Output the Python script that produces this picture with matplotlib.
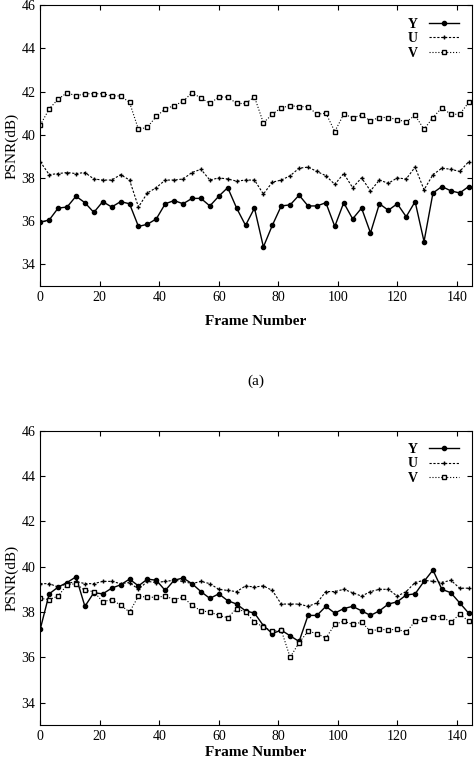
import numpy as np
import matplotlib
matplotlib.use("Agg")
import matplotlib.pyplot as plt

plt.rcParams["font.family"] = ["Liberation Serif", "DejaVu Serif"]

frames = np.arange(0, 147, 3)

y_a = [35.95, 36.05, 36.6, 36.65, 37.15, 36.85, 36.4, 36.9, 36.65, 36.9, 36.8, 35.75, 35.85,
       36.1, 36.8, 36.95, 36.8, 37.05, 37.05, 36.7, 37.15, 37.55, 36.6, 35.8, 36.6, 34.8,
       35.8, 36.7, 36.75, 37.2, 36.7, 36.7, 36.85, 35.75, 36.85, 36.1, 36.6, 35.45, 36.8,
       36.5, 36.8, 36.2, 36.9, 35.05, 37.3, 37.6, 37.4, 37.3, 37.6]
u_a = [38.75, 38.15, 38.2, 38.25, 38.2, 38.25, 37.95, 37.9, 37.9, 38.15, 37.9, 36.65, 37.3,
       37.55, 37.9, 37.9, 37.95, 38.25, 38.4, 37.9, 38.0, 37.95, 37.85, 37.9, 37.9, 37.25,
       37.8, 37.9, 38.1, 38.45, 38.5, 38.3, 38.1, 37.7, 38.2, 37.55, 38.0, 37.4, 37.9,
       37.75, 38.0, 37.95, 38.5, 37.45, 38.15, 38.45, 38.4, 38.3, 38.75]
v_a = [40.45, 41.2, 41.65, 41.95, 41.8, 41.9, 41.9, 41.9, 41.8, 41.8, 41.5, 40.25, 40.35,
       40.85, 41.2, 41.35, 41.55, 41.95, 41.7, 41.45, 41.75, 41.75, 41.45, 41.45, 41.75,
       40.55, 40.95, 41.25, 41.35, 41.3, 41.3, 40.95, 41.0, 40.15, 40.95, 40.8, 40.9,
       40.65, 40.8, 40.8, 40.7, 40.6, 40.9, 40.25, 40.8, 41.25, 40.95, 40.95, 41.5]

y_b = [37.25, 38.8, 39.1, 39.3, 39.55, 38.25, 38.85, 38.8, 39.05, 39.2, 39.45, 39.15, 39.45,
       39.4, 38.95, 39.4, 39.5, 39.25, 38.9, 38.6, 38.8, 38.5, 38.35, 38.05, 37.95, 37.4,
       37.05, 37.2, 36.95, 36.7, 37.85, 37.85, 38.25, 37.95, 38.15, 38.25, 38.05, 37.85,
       38.05, 38.35, 38.45, 38.75, 38.8, 39.35, 39.85, 39.0, 38.85, 38.4, 37.95]
u_b = [39.25, 39.25, 39.1, 39.25, 39.35, 39.25, 39.25, 39.35, 39.35, 39.25, 39.3, 39.0, 39.35,
       39.3, 39.35, 39.4, 39.35, 39.25, 39.35, 39.25, 39.0, 38.95, 38.9, 39.15, 39.1, 39.15,
       38.95, 38.35, 38.35, 38.35, 38.25, 38.4, 38.9, 38.9, 39.0, 38.85, 38.7, 38.9, 39.0,
       39.0, 38.7, 38.9, 39.3, 39.4, 39.35, 39.3, 39.4, 39.05, 39.05]
v_b = [38.6, 38.55, 38.7, 39.2, 39.25, 38.95, 38.9, 38.45, 38.55, 38.3, 38.0, 38.7, 38.65,
       38.65, 38.7, 38.55, 38.65, 38.3, 38.05, 38.0, 37.85, 37.75, 38.15, 38.0, 37.55,
       37.35, 37.15, 37.2, 36.0, 36.65, 37.15, 37.05, 36.85, 37.45, 37.6, 37.45, 37.55,
       37.15, 37.25, 37.2, 37.25, 37.1, 37.6, 37.7, 37.8, 37.8, 37.55, 37.9, 37.6]


def panel(ax, y, u, v, pad):
    ax.plot(frames, y, "k-", marker="o", ms=3, lw=1.0, label="Y")
    ax.plot(frames, u, "k--", marker="+", ms=3, lw=0.8, label="U", dashes=(2, 1.5))
    ax.plot(frames, v, "k:", marker="s", ms=3, mfc="white", lw=0.8, label="V")
    ax.set_xlim(0, 145)
    ax.set_ylim(33, 46)
    ax.set_xticks(range(0, 141, 20))
    ax.set_yticks(range(34, 47, 2))
    ax.tick_params(direction="in", top=True, right=True, labelsize=10)
    ax.set_xlabel("Frame Number", fontsize=11, fontweight="bold", labelpad=pad)
    ax.set_ylabel("PSNR(dB)", fontsize=11, labelpad=2)
    ax.legend(loc="upper right", frameon=False, markerfirst=False, handlelength=2.2,
              labelspacing=0.1, prop={"weight": "bold", "size": 10})


fig = plt.figure(figsize=(4.74, 7.62), dpi=100)
ax1 = fig.add_axes([0.085, 0.625, 0.91, 0.368])
ax2 = fig.add_axes([0.085, 0.048, 0.91, 0.387])
panel(ax1, y_a, u_a, v_a, 8)
panel(ax2, y_b, u_b, v_b, 2)
fig.text(0.54, 0.495, "(a)", ha="center", fontsize=11)
fig.savefig("out.png", dpi=100)
